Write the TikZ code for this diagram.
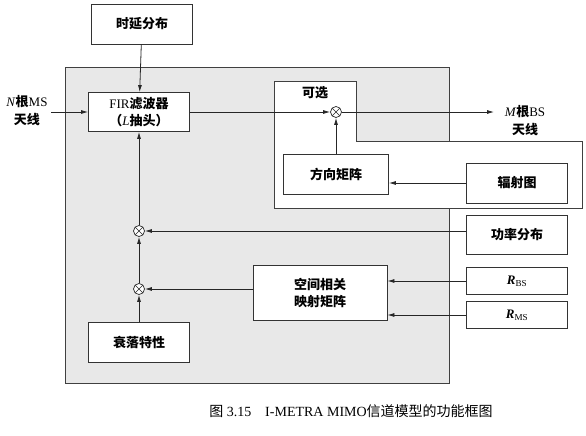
\documentclass[tikz,border=0pt]{standalone}
\usepackage{fontspec}
\setmainfont{Liberation Serif}
\newfontfamily\cjk{Noto Sans CJK SC}
\newcommand{\zh}[1]{{\cjk\bfseries #1}}
\usetikzlibrary{arrows.meta}
\tikzset{
  blk/.style={draw=black!80,fill=white,line width=0.8pt,minimum width=101pt,minimum height=40pt,
    inner sep=0pt,align=center,font=\fontsize{13}{17}\selectfont},
  mul/.style={draw=black!85,circle,fill=white,line width=0.7pt,minimum size=11pt,inner sep=0pt,
    path picture={\draw[line width=0.6pt] (path picture bounding box.north west)--(path picture bounding box.south east)
      (path picture bounding box.north east)--(path picture bounding box.south west);}},
  lbl/.style={align=center,inner sep=0pt,font=\fontsize{13}{18}\selectfont},
  sig/.style={-{Latex[length=7pt,width=4pt]},line width=0.8pt,black!85}
}
\begin{document}
\begin{tikzpicture}[x=1pt,y=-1pt]
    \useasboundingbox (0,0) rectangle (586,436);
    % grey frame and the optional part
    \draw[black!75,fill=black!9,line width=0.8pt] (65,67) rectangle (449,383);
    \draw[black!75,fill=white,line width=0.8pt] (274,81)--(356,81)--(356,141)--(582,141)--(582,208)--(274,208)--cycle;
    \node[lbl] (opttxt) at (315,93) {\zh{可选}};
    % blocks
    \node[blk] (delay) at (142,24) {\zh{时延分布}};
    \node[blk,minimum height=39pt] (fir) at (139,112) {FIR\zh{滤波器}\\\zh{（}\textit{L}\zh{抽头）}};
    \node[blk,minimum width=105pt] (dir) at (336,174) {\zh{方向矩阵}};
    \node[blk] (rad) at (517,183) {\zh{辐射图}};
    \node[blk,minimum height=39pt] (power) at (517,235) {\zh{功率分布}};
    \node[blk,minimum height=27pt] (rbs) at (517,281) {\textbf{\textit{R}}\textsubscript{BS}};
    \node[blk,minimum height=27pt] (rms) at (517,315) {\textbf{\textit{R}}\textsubscript{MS}};
    \node[blk,minimum width=134pt,minimum height=55pt] (spat) at (320,293) {\zh{空间相关}\\\zh{映射矩阵}};
    \node[blk] (fade) at (139,342) {\zh{衰落特性}};
    % multipliers
    \node[mul] (opt) at (336,112) {};
    \node[mul] (c1) at (139,231) {};
    \node[mul] (c2) at (139,289) {};
    % antennas
    \node[lbl] (nant) at (27,111) {\textit{N}\zh{根}MS\\\zh{天线}};
    \node[lbl] (mant) at (525,121) {\textit{M}\zh{根}BS\\\zh{天线}};
    \coordinate (nin) at (51,112);
    \coordinate (mout) at (494,112);
    % signals
    \draw[sig] (delay)--(fir);
    \draw[sig] (nin)--(fir.west);
    \draw[sig] (fir.east)--(opt);
    \draw[sig] (opt)--(mout);
    \draw[sig] (dir)--(opt);
    \draw[sig] (rad.west)--(dir.east |- rad.west);
    \draw[sig] (c1)--(fir);
    \draw[sig] (power.west |- c1)--(c1);
    \draw[sig] (c2)--(c1);
    \draw[sig] (fade)--(c2);
    \draw[sig] (spat.west |- c2)--(c2);
    \draw[sig] (rbs.west)--(spat.east |- rbs.west);
    \draw[sig] (rms.west)--(spat.east |- rms.west);
    % caption
    \node[font=\fontsize{14}{16}\selectfont] (cap) at (351,411) {{\cjk 图} 3.15\quad I-METRA MIMO{\cjk 信道模型的功能框图}};
\end{tikzpicture}
\end{document}
